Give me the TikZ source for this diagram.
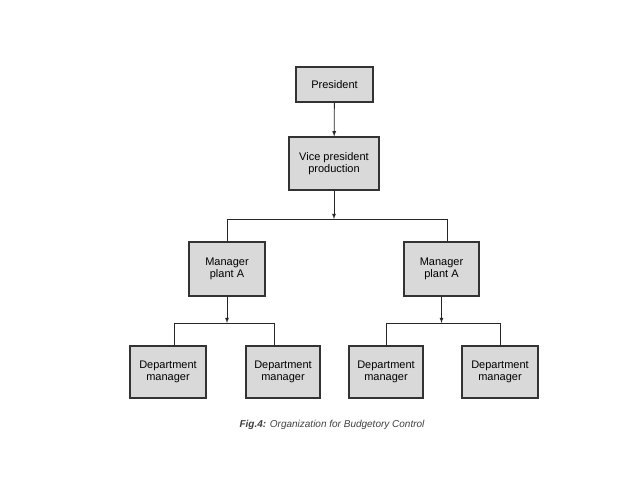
\documentclass[tikz,border=0pt]{standalone}
\usepackage{fontspec}
\setmainfont{Liberation Sans}
\begin{document}
\begin{tikzpicture}[x=1pt,y=-1pt,
  box/.style={draw=black!80,line width=1.2pt,fill=black!15,align=center,font=\fontsize{11}{12}\selectfont,inner sep=0pt},
  ln/.style={line width=0.8pt,black!85},
  arr/.style={ln,-latex}]
\useasboundingbox[fill=white] (0,0) rectangle (638,478);
\node[box,minimum width=77,minimum height=35] (p) at (334.5,84.5) {President};
\node[box,minimum width=90,minimum height=53] (vp) at (334,163.5) {Vice president\\production};
\node[box,minimum width=76,minimum height=54] (ma) at (227,269) {Manager\\plant A};
\node[box,minimum width=75,minimum height=54] (mb) at (441.5,269) {Manager\\plant A};
\node[box,minimum width=76,minimum height=52] (d1) at (168,372) {Department\\manager};
\node[box,minimum width=74,minimum height=52] (d2) at (283,372) {Department\\manager};
\node[box,minimum width=74,minimum height=52] (d3) at (386,372) {Department\\manager};
\node[box,minimum width=76,minimum height=52] (d4) at (500,372) {Department\\manager};
\coordinate (j0) at (334,219);
\coordinate (jl) at (227,219);
\coordinate (jr) at (447,219);
\coordinate (ja) at (227,323);
\coordinate (jal) at (174,323);
\coordinate (jar) at (274,323);
\coordinate (jb) at (441.5,323);
\coordinate (jbl) at (386,323);
\coordinate (jbr) at (500,323);
\draw[arr] (p) -- (vp);
\draw[arr] (vp) -- (j0);
\draw[ln] (jl) -- (jr);
\draw[ln] (jl) -- (ma);
\draw[ln] (jr) -- (jr |- mb.north);
\draw[arr] (ma) -- (ja);
\draw[arr] (mb) -- (jb);
\draw[ln] (jal) -- (jar);
\draw[ln] (jbl) -- (jbr);
\draw[ln] (jal) -- (jal |- d1.north);
\draw[ln] (jar) -- (jar |- d2.north);
\draw[ln] (jbl) -- (d3.north);
\draw[ln] (jbr) -- (d4.north);
\node[font=\fontsize{10}{12}\selectfont\itshape,black!75] (cap) at (332,425) {\textbf{Fig.4:} Organization for Budgetory Control};
\end{tikzpicture}
\end{document}
